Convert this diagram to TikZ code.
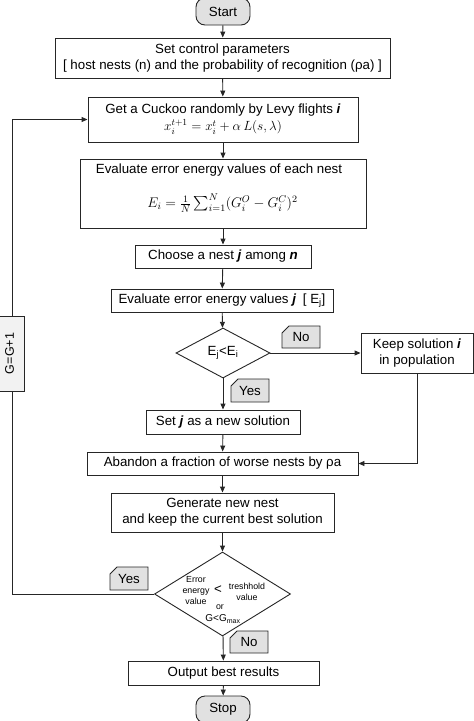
\RequirePackage{fix-cm}
\documentclass[tikz,border=0pt]{standalone}
\usepackage{amsmath}
\usepackage{fontspec}
\setmainfont{Liberation Sans}
\usetikzlibrary{shapes.geometric,arrows.meta}
\definecolor{lc}{HTML}{262626}
\definecolor{tg}{HTML}{E1E1E1}
\definecolor{gbox}{HTML}{F2F2F2}
\newcommand{\bi}[1]{\textbf{\textit{#1}}}
\newcommand{\tagbox}[6]{%
  \draw[tagshape] (#2,#5) -- (#4,#5) -- (#4,#3) -- ({#2+7},#3) -- (#2,{#3+7}) -- cycle;
  \node (#1) at ({(#2+#4)/2},{(#3+#5)/2}) {#6};}
\begin{document}
\begin{tikzpicture}[x=1pt,y=-1pt,
  every node/.style={font=\fontsize{13.3}{16}\selectfont, inner sep=0pt},
  box/.style={draw=lc, line width=0.9pt, fill=white, align=center},
  term/.style={box, rounded corners=9pt, fill=tg, minimum width=54pt, minimum height=27pt},
  arr/.style={draw=lc, line width=0.9pt, -{Triangle[length=6pt,width=5pt]}},
  ln/.style={draw=lc, line width=0.9pt},
  tagshape/.style={draw=lc, line width=0.9pt, fill=tg},
  dia/.style={draw=lc, line width=0.9pt, fill=white, diamond, inner sep=0pt},
  small/.style={font=\fontsize{8.8}{11}\selectfont, align=center}]
\useasboundingbox (0,0) rectangle (474,721);

\node[term] (start) at (223,11.5) {Start};
\node[box, minimum width=335pt, minimum height=40pt] (params) at (222.5,58)
  {Set control parameters\\{}[ host nests (n) and the probability of recognition (ρa) ]};
\node[box, minimum width=270pt, minimum height=45pt] (cuckoo) at (223,119.5)
  {Get a Cuckoo randomly by Levy flights \bi{i}\\[1pt] $x_i^{t+1} = x_i^{t} + \alpha\, L(s,\lambda)$};
\node[box, minimum width=286pt, minimum height=69pt] (eval) at (223,193.5) {};
\node (evaltxt) at (219,170) {Evaluate error energy values of each nest};
\node (evalform) at (222.5,203) {\fontsize{14}{16}\selectfont $E_i = \frac{1}{N}\sum_{i=1}^{N}(G_i^{O} - G_i^{C})^2$};
\node[box, minimum width=176pt, minimum height=23pt] (choose) at (223,256.5) {Choose a nest \bi{j} among \bi{n}};
\node[box, minimum width=222pt, minimum height=23pt] (evalj) at (222,300.5) {Evaluate error energy values \bi{j}\enspace[ E\textsubscript{j}]};
\node[dia, minimum width=94pt, minimum height=50pt, aspect=1.88] (d1) at (223,353) {E\textsubscript{j}<E\textsubscript{i}};
\node[box, minimum width=112pt, minimum height=40pt] (keep) at (417,353.5) {Keep solution \bi{i}\\in population};
\node[box, minimum width=154pt, minimum height=24pt] (setj) at (223,422) {Set \bi{j} as a new solution};
\node[box, minimum width=271pt, minimum height=23pt] (abandon) at (222.5,463.5) {Abandon a fraction of worse nests by ρa};
\node[box, minimum width=223pt, minimum height=39pt] (generate) at (222.5,512.5) {Generate new nest\\and keep the current best solution};
\node[dia, minimum width=136pt, minimum height=84pt, aspect=1.62] (d2) at (222.5,594) {};
\node[small] (t1) at (196,591) {Error\\energy\\value};
\node (t2) at (218,590) {<};
\node[small] (t3) at (247,591.5) {treshhold\\value};
\node[small] (t4) at (220,607.5) {or};
\node[font=\fontsize{10}{12}\selectfont] (t5) at (223,619) {G<G\textsubscript{max}};
\node[box, minimum width=191pt, minimum height=24pt] (output) at (223.5,673) {Output best results};
\node[term] (stop) at (223,709.5) {Stop};

\tagbox{no1}{282}{326}{320}{348}{No}
\tagbox{yes1}{231}{379}{269}{402}{Yes}
\tagbox{yes2}{110}{567}{148}{590}{Yes}
\tagbox{no2}{230}{631}{268}{653}{No}

\draw[arr] (start) -- (params);
\draw[arr] (params) -- (cuckoo);
\draw[arr] (cuckoo) -- (eval);
\draw[arr] (eval) -- (choose);
\draw[arr] (choose) -- (evalj);
\draw[arr] (evalj) -- (d1);
\draw[arr] (d1.east) -- (d1.east -| keep.west);
\draw[arr] (d1) -- (setj);
\draw[arr] (keep.south) |- (abandon.east);
\draw[arr] (setj) -- (abandon);
\draw[arr] (abandon) -- (generate);
\draw[arr] (generate) -- (d2);
\draw[arr] (d2) -- (output);
\draw[arr] (output) -- (stop);
\coordinate (lb) at (12,594);
\draw[arr] (d2.west) -- (lb) |- (cuckoo.west);
\node[box, fill=gbox, minimum width=75pt, minimum height=29pt, rotate=90, font=\fontsize{12.5}{15}\selectfont] (gg) at (9.5,353.5) {G=G+1};
\end{tikzpicture}
\end{document}
